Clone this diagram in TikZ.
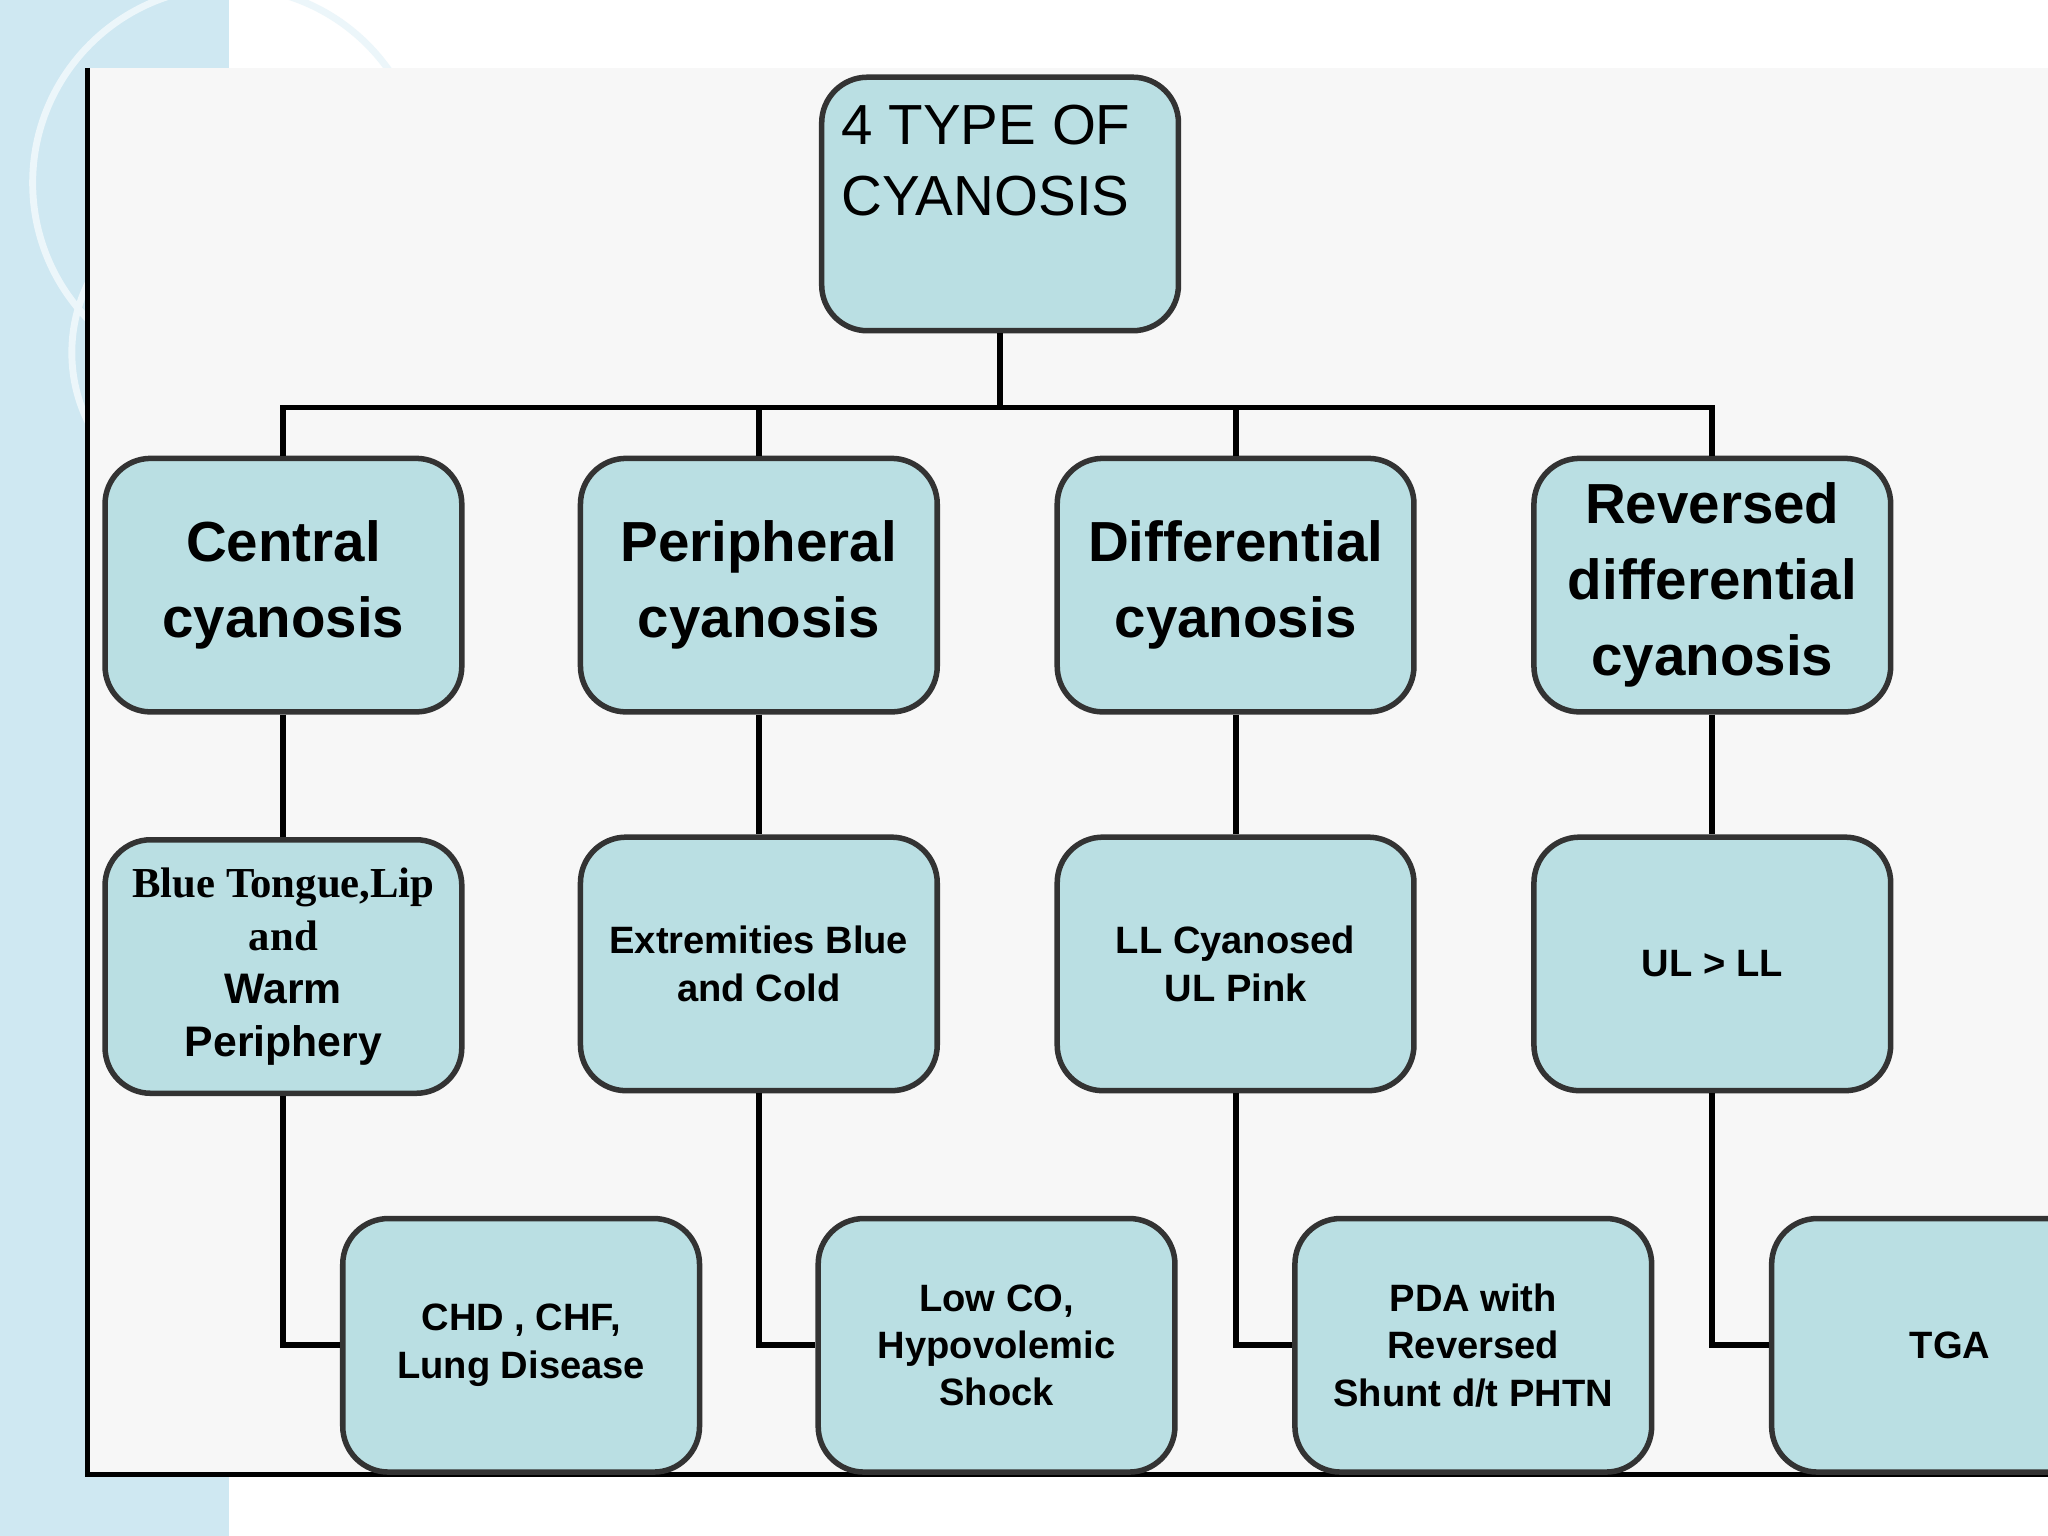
\documentclass[tikz,border=0pt]{standalone}
\usepackage{fontspec}
\setmainfont{Liberation Sans}
\newfontfamily\tms{Liberation Serif}
\newfontfamily\ars{Liberation Sans}
\begin{document}
\begin{tikzpicture}[x=0.01cm,y=-0.01cm,
 box/.style={draw=black!80,line width=1.2pt,fill=boxc,rounded corners=0.35cm,minimum width=2.73cm,minimum height=1.94cm,align=center,inner sep=0pt},
 big/.style={box,font=\fontsize{12.3}{16.5}\selectfont\bfseries},
 small/.style={box,font=\fontsize{8.3}{10.3}\selectfont\bfseries},
 ln/.style={line width=1.3pt,draw=black}]
\definecolor{boxc}{HTML}{BADFE3}
\definecolor{strip}{HTML}{CFE8F2}
\useasboundingbox (0,0) rectangle (1568,1176);
\fill[white] (0,0) rectangle (1568,1176);
\fill[strip] (0,0) rectangle (175,1176);
\draw[white!60!strip,line width=1.5pt] (175,140) circle (150);
\draw[white!60!strip,line width=1.5pt] (175,270) circle (120);
\fill[white!97!black] (66,52) rectangle (1568,1129);
\draw[line width=1pt] (67,52) -- (67,1129) -- (1568,1129);
\node[big,anchor=north west] (top) at (627,57) {};
\node[font=\fontsize{12.3}{15.5}\selectfont,anchor=north west,align=left] (toptxt) at (632,68) {4 TYPE OF\\CYANOSIS};
\node[big] (c1) at (217,448) {Central\\cyanosis};
\node[big] (p1) at (581,448) {Peripheral\\cyanosis};
\node[big] (d1) at (946,448) {Differential\\cyanosis};
\node[big] (r1) at (1311,448) {Reversed\\differential\\cyanosis};
\node[small,font=\fontsize{9.3}{11.5}\selectfont\bfseries] (c2) at (217,740) {\tms Blue Tongue,Lip\\\tms and\\\ars Warm\\\ars Periphery};
\node[small] (p2) at (581,738) {Extremities Blue\\and Cold};
\node[small] (d2) at (946,738) {LL Cyanosed\\UL Pink};
\node[small] (r2) at (1311,738) {UL > LL};
\node[small] (c3) at (399,1030) {CHD , CHF,\\Lung Disease};
\node[small] (p3) at (763,1030) {Low CO,\\Hypovolemic\\Shock};
\node[small] (d3) at (1128,1030) {PDA with\\Reversed\\Shunt d/t PHTN};
\node[small] (r3) at (1493,1030) {TGA};
\coordinate (bus) at (top.south|-{(0,312)});
\draw[ln] (top.south) -- (bus);
\draw[ln] (c1.north) |- (bus) -| (r1.north);
\draw[ln] (p1.north) -- (p1.north|-bus);
\draw[ln] (d1.north) -- (d1.north|-bus);
\foreach \n in {c,p,d,r}{
  \draw[ln] (\n1.south) -- (\n1.south|-\n2.north);
  \draw[ln] (\n2.south) |- (\n3.west);}
\end{tikzpicture}
\end{document}
